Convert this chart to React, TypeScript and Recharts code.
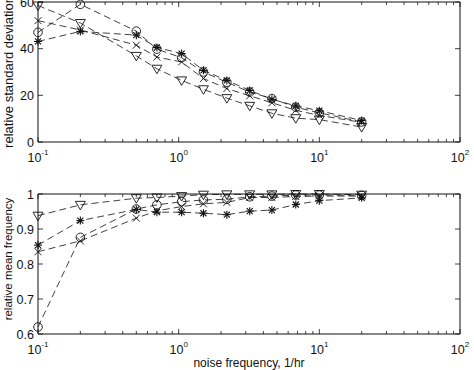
import { LineChart, Line, XAxis, YAxis, ReferenceArea } from 'recharts';

// noise frequencies (1/hr)
const freqs = [0.1, 0.2, 0.5, 0.7, 1.05, 1.5, 2.2, 3.2, 4.6, 6.8, 10, 20];

// top panel: relative standard deviation
const sdCircle = [47, 59, 47.5, 39.8, 36.1, 30, 25.6, 21.4, 18.6, 14.9, 12.5, 8.6];
const sdCross = [52, 48, 41.5, 36.4, 34.3, 27.2, 22.9, 19.8, 16.8, 13.6, 11.4, 8.4];
const sdStar = [43.1, 47.4, 45.8, 40.5, 37.9, 30.7, 26.4, 22.1, 18.3, 15.5, 13.4, 9.2];
const sdTri = [58.5, 51, 36.9, 31.4, 26.4, 22.6, 18.8, 15.5, 12.3, 10.2, 9.6, 6.4];

// bottom panel: relative mean frequency
const mfCircle = [0.62, 0.876, 0.957, 0.969, 0.978, 0.983, 0.985, 0.992, 0.994, 0.997, 0.997, 0.996];
const mfCross = [0.835, 0.866, 0.931, 0.952, 0.964, 0.972, 0.976, 0.99, 0.99, 0.993, 0.994, 0.994];
const mfStar = [0.854, 0.924, 0.956, 0.948, 0.948, 0.945, 0.941, 0.951, 0.954, 0.97, 0.981, 0.989];
const mfTri = [0.938, 0.969, 0.988, 0.99, 0.994, 0.998, 0.999, 0.999, 0.999, 1.0, 1.0, 0.998];

const xTicks = [0.1, 0.2, 0.3, 0.4, 0.5, 0.6, 0.7, 0.8, 0.9, 1, 2, 3, 4, 5, 6, 7, 8, 9, 10, 20, 30, 40, 50, 60, 70, 80, 90, 100];
const sdTicks = [0, 20, 40, 60];
const mfTicks = [0.6, 0.7, 0.8, 0.9, 1];

const sdData = freqs.map((f, i) => ({ f, o: sdCircle[i], x: sdCross[i], s: sdStar[i], t: sdTri[i] }));
const mfData = freqs.map((f, i) => ({ f, o: mfCircle[i], x: mfCross[i], s: mfStar[i], t: mfTri[i] }));

const FONT = '"Liberation Sans", Arial, Helvetica, sans-serif';
const PLOT_W = 422;
const PLOT_H = 140;
const INK = '#111';

const makeXTick = (props: any) => {
  const { x, y, payload } = props;
  const lg = Math.log10(payload.value);
  const exp = Math.round(lg);
  const major = Math.abs(lg - exp) < 1e-6;
  const len = major ? 5 : 3;
  return (
    <g>
      <line x1={x} x2={x} y1={y} y2={y - len} stroke={INK} strokeWidth={0.8} />
      <line x1={x} x2={x} y1={y - PLOT_H} y2={y - PLOT_H + len} stroke={INK} strokeWidth={0.8} />
      {major && (
        <text x={x} y={y + 20} textAnchor="middle" fontSize={12.5} fontFamily={FONT} fill={INK}>
          10<tspan dy={-7} fontSize={8}>{exp}</tspan>
        </text>
      )}
    </g>
  );
};

const makeYTick = (fmt: (v: number) => string) => (props: any) => {
  const { x, y, payload } = props;
  return (
    <g>
      <line x1={x} x2={x + 5} y1={y} y2={y} stroke={INK} strokeWidth={0.8} />
      <line x1={x + PLOT_W} x2={x + PLOT_W - 5} y1={y} y2={y} stroke={INK} strokeWidth={0.8} />
      <text x={x - 4} y={y} dy="0.36em" textAnchor="end" fontSize={12.5} fontFamily={FONT} fill={INK}>
        {fmt(payload.value)}
      </text>
    </g>
  );
};

const yLabel = (text: string, size: number, shift: number) => (props: any) => {
  const vb = props.viewBox || { x: 0, y: 0, width: 38, height: PLOT_H };
  const cx = vb.x + 8;
  const cy = vb.y + vb.height / 2 + shift;
  return (
    <text x={cx} y={cy} dy="0.36em" transform={`rotate(-90 ${cx} ${cy})`} textAnchor="middle"
      fontSize={size} fontFamily={FONT} fill={INK}>
      {text}
    </text>
  );
};

const makeDot = (shape: string) => (props: any) => {
  const { cx, cy, index } = props;
  const k = `${shape}-${index}`;
  if (cx == null || cy == null) return <g key={k} />;
  const st = { stroke: INK, strokeWidth: 0.9, fill: 'none' };
  if (shape === 'o') return <circle key={k} cx={cx} cy={cy} r={4.3} {...st} />;
  if (shape === 'x')
    return (
      <g key={k}>
        <line x1={cx - 3.5} y1={cy - 3.5} x2={cx + 3.5} y2={cy + 3.5} {...st} />
        <line x1={cx - 3.5} y1={cy + 3.5} x2={cx + 3.5} y2={cy - 3.5} {...st} />
      </g>
    );
  if (shape === 's')
    return (
      <g key={k} strokeWidth={1.1}>
        <line x1={cx - 4} y1={cy} x2={cx + 4} y2={cy} stroke={INK} />
        <line x1={cx} y1={cy - 4} x2={cx} y2={cy + 4} stroke={INK} />
        <line x1={cx - 3} y1={cy - 3} x2={cx + 3} y2={cy + 3} stroke={INK} />
        <line x1={cx - 3} y1={cy + 3} x2={cx + 3} y2={cy - 3} stroke={INK} />
      </g>
    );
  return <polygon key={k} points={`${cx - 5},${cy - 3.5} ${cx + 5},${cy - 3.5} ${cx},${cy + 5}`} {...st} />;
};

const series = ['o', 'x', 's', 't'];

function Panel({ data, yDomain, yTicks, fmt, label, labelSize, labelShift, height, margin, xLabel }: any) {
  return (
    <LineChart width={474} height={height} data={data} margin={margin}>
      <XAxis dataKey="f" type="number" scale="log" domain={[0.1, 100]} ticks={xTicks} interval={0}
        height={20} tickSize={0} tickMargin={0} axisLine={false} tickLine={false} tick={makeXTick}
        label={xLabel ? { value: xLabel, position: 'bottom', offset: 4, fontSize: 12, fontFamily: FONT, fill: INK } : undefined} />
      <YAxis type="number" domain={yDomain} ticks={yTicks} interval={0} width={38} tickSize={0} tickMargin={0}
        axisLine={false} tickLine={false} tick={makeYTick(fmt)}
        label={{ content: yLabel(label, labelSize, labelShift) }} />
      <ReferenceArea x1={0.1} x2={100} y1={yDomain[0]} y2={yDomain[1]} fill="none" stroke={INK} strokeWidth={1} />
      {series.map((k) => (
        <Line key={k} dataKey={k} type="linear" stroke={INK} strokeWidth={0.8} strokeDasharray="7 4"
          isAnimationActive={false} dot={makeDot(k)} activeDot={false} />
      ))}
    </LineChart>
  );
}

export default function App() {
  return (
    <div style={{ position: 'absolute', left: 0, top: 0, width: 474, height: 370, overflow: 'hidden', background: '#fff' }}>
      <div style={{ position: 'absolute', left: 0, top: 0 }}>
        <Panel data={sdData} yDomain={[0, 60]} yTicks={sdTicks} fmt={(v: number) => String(v)}
          label="relative standard deviation" labelSize={13} labelShift={0}
          height={175} margin={{ top: 2, right: 14, bottom: 13, left: 0 }} />
      </div>
      <div style={{ position: 'absolute', left: 0, top: 175 }}>
        <Panel data={mfData} yDomain={[0.6, 1]} yTicks={mfTicks} fmt={(v: number) => (v === 1 ? '1' : v.toFixed(1))}
          label="relative mean frequency" labelSize={11.5} labelShift={-5}
          height={195} margin={{ top: 19, right: 14, bottom: 16, left: 0 }} xLabel="noise frequency, 1/hr" />
      </div>
    </div>
  );
}
